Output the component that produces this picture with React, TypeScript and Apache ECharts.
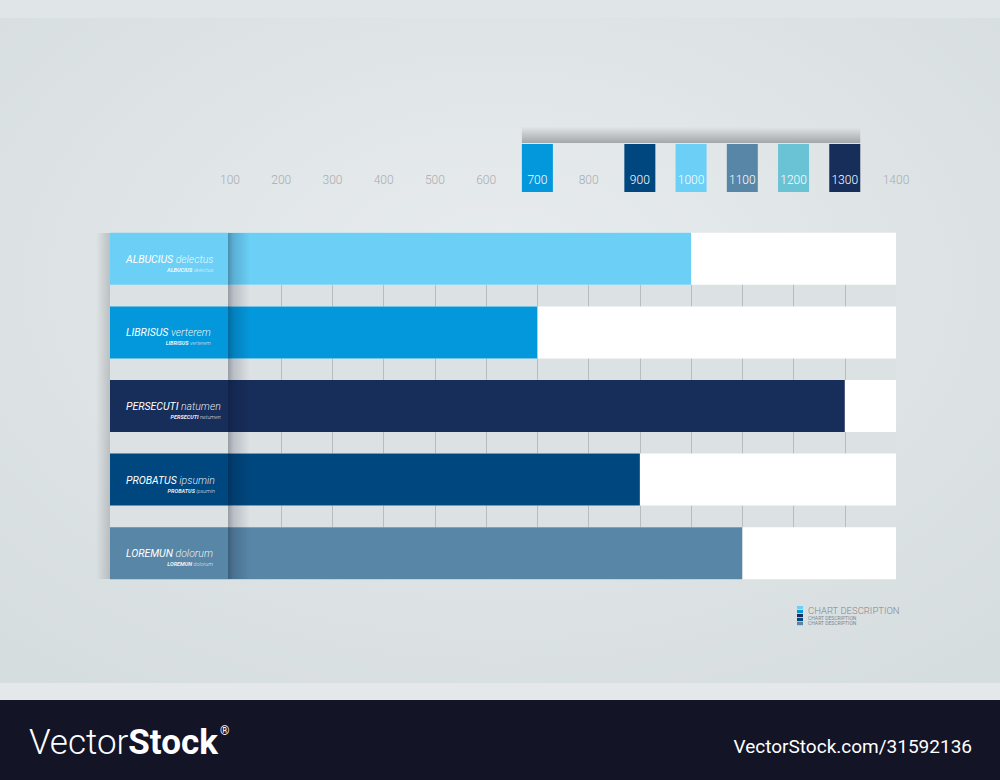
import React, { useEffect, useRef } from "react";
import * as echarts from "echarts";

// ---- data ----
const categories = ["ALBUCIUS", "LIBRISUS", "PERSECUTI", "PROBATUS", "LOREMUN"];
const subtitles = ["delectus", "verterem", "natumen", "ipsumin", "dolorum"];
const values = [1000, 700, 1300, 900, 1100];
const barColors = ["#6BCFF6", "#0397DB", "#172E5B", "#00477F", "#5886A6"];
const axisMin = 100;
const axisMax = 1400;
const axisStep = 100;
const chipValues = [700, 900, 1000, 1100, 1200, 1300];
const chipColors = ["#0397DB", "#00477F", "#6BCFF6", "#5886A6", "#6AC3D5", "#172E5B"];
const legendColors = ["#6BCFF6", "#0397DB", "#172E5B", "#00477F", "#5886A6"];
const legendTitle = "CHART DESCRIPTION";
const legendLines = ["CHART DESCRIPTION", "CHART DESCRIPTION"];
const brandLight = "Vector";
const brandBold = "Stock";
const brandUrl = "VectorStock.com/31592136";

const axisFont = "Roboto, 'Open Sans', sans-serif";
const labelFont = "Roboto, 'Open Sans', sans-serif";

export default function App() {
  const ref = useRef<HTMLDivElement>(null);

  useEffect(() => {
    document.body.style.margin = "0";
    const chart = echarts.init(ref.current!, null, { renderer: "svg" });

    const base = {
      width: 31,
      height: 16,
      lineHeight: 16,
      padding: [28, 0, 4, 0],
      align: "center",
      fontSize: 12,
      fontFamily: axisFont,
      fontWeight: 300,
    };
    const axisRich: any = { n: { ...base, color: "#A9ADB1" } };
    chipValues.forEach((v, i) => {
      axisRich["c" + v] = { ...base, color: "#FFFFFF", backgroundColor: chipColors[i] };
    });

    const gridTop = 222;
    const gridHeight = 368;

    chart.setOption({
      animation: false,
      backgroundColor: "#E1E6E8",
      grid: [
        { left: 110, width: 120, top: gridTop, height: gridHeight, containLabel: false },
        { left: 230, right: 104, top: gridTop, height: gridHeight, containLabel: false },
        { left: 230, right: 104, top: 233, height: 346, containLabel: false },
      ],
      xAxis: [
        { gridIndex: 0, type: "value", min: 0, max: 1, show: false },
        {
          gridIndex: 1,
          type: "value",
          min: axisMin,
          max: axisMax,
          interval: axisStep,
          position: "top",
          offset: gridTop - 176,
          axisLine: { show: false },
          axisTick: { show: false },
          splitLine: { show: false },
          axisLabel: {
            show: true,
            margin: 0,
            showMinLabel: true,
            showMaxLabel: true,
            formatter: (v: number) =>
              chipValues.includes(v) ? `{c${v}|${v}}` : `{n|${v}}`,
            rich: axisRich,
          },
        },
        {
          gridIndex: 2,
          type: "value",
          min: axisMin,
          max: axisMax,
          interval: axisStep,
          axisLine: { show: false },
          axisTick: { show: false },
          axisLabel: { show: false },
          splitLine: {
            show: true,
            showMinLine: false,
            showMaxLine: false,
            lineStyle: { color: "#B8BDC1", width: 1 },
          },
        },
      ],
      yAxis: [
        { gridIndex: 0, type: "category", data: categories, inverse: true, show: false },
        { gridIndex: 1, type: "category", data: categories, inverse: true, show: false },
        { gridIndex: 2, type: "value", show: false },
      ],
      series: [
        {
          type: "bar",
          xAxisIndex: 0,
          yAxisIndex: 0,
          barWidth: 52,
          silent: true,
          data: categories.map((c, i) => ({ value: 1, itemStyle: { color: barColors[i] } })),
          label: {
            show: true,
            position: "insideLeft",
            distance: 16,
            offset: [0, 5],
            formatter: (p: any) =>
              `{b|${categories[p.dataIndex]}}{l| ${subtitles[p.dataIndex]}}\n{bs|${categories[p.dataIndex]}}{ls| ${subtitles[p.dataIndex]}}`,
            rich: {
              b: { fontFamily: labelFont, fontSize: 10.5, fontStyle: "italic", fontWeight: 400, color: "#FFFFFF", lineHeight: 12 },
              l: { fontFamily: labelFont, fontSize: 10.5, fontStyle: "italic", fontWeight: 300, color: "rgba(255,255,255,0.92)", lineHeight: 12 },
              bs: { fontFamily: labelFont, fontSize: 5.5, fontStyle: "italic", fontWeight: 700, color: "rgba(255,255,255,0.92)", lineHeight: 9, align: "right" },
              ls: { fontFamily: labelFont, fontSize: 5.5, fontStyle: "italic", fontWeight: 300, color: "rgba(255,255,255,0.85)", lineHeight: 9, align: "right" },
            },
          },
        },
        {
          type: "bar",
          xAxisIndex: 1,
          yAxisIndex: 1,
          barWidth: 52,
          silent: true,
          showBackground: true,
          backgroundStyle: { color: "#FFFFFF" },
          data: values.map((v, i) => ({ value: v, itemStyle: { color: barColors[i] } })),
        },
        { type: "scatter", xAxisIndex: 2, yAxisIndex: 2, data: [], silent: true },
      ],
    });

    const px = (v: number) => chart.convertToPixel({ xAxisIndex: 1 }, v) as number;
    const stripLeft = px(chipValues[0]) - 15.5;
    const stripRight = px(chipValues[chipValues.length - 1]) + 15.5;
    const plotLeft = px(axisMin);
    const plotRight = px(axisMax);

    const elements: any[] = [
      { type: "rect", z: -20, silent: true, shape: { x: 0, y: 0, width: 1000, height: 18 }, style: { fill: "#E0E5E7" } },
      {
        type: "rect",
        z: -20,
        silent: true,
        shape: { x: 0, y: 18, width: 1000, height: 665 },
        style: {
          fill: new echarts.graphic.RadialGradient(0.5, 0.4, 0.75, [
            { offset: 0, color: "#E8ECEE" },
            { offset: 1, color: "#D6DDDF" },
          ]),
        },
      },
      { type: "rect", z: -20, silent: true, shape: { x: 0, y: 683, width: 1000, height: 17 }, style: { fill: "#E4E8EA" } },
      { type: "rect", z: -20, silent: true, shape: { x: 0, y: 700, width: 1000, height: 80 }, style: { fill: "#131426" } },
      // gap band behind the bars
      { type: "rect", z: -5, silent: true, shape: { x: 110, y: 233, width: plotRight - 110, height: 346 }, style: { fill: "#DCE1E4" } },
      // left shadow
      {
        type: "rect",
        z: 10,
        silent: true,
        shape: { x: 96, y: 233, width: 14, height: 346 },
        style: {
          fill: new echarts.graphic.LinearGradient(0, 0, 1, 0, [
            { offset: 0, color: "rgba(0,0,0,0)" },
            { offset: 1, color: "rgba(0,0,0,0.16)" },
          ]),
        },
      },
      // fold shadow
      {
        type: "rect",
        z: 10,
        silent: true,
        shape: { x: plotLeft - 2, y: 233, width: 22, height: 346 },
        style: {
          fill: new echarts.graphic.LinearGradient(0, 0, 1, 0, [
            { offset: 0, color: "rgba(0,10,30,0.32)" },
            { offset: 0.25, color: "rgba(0,10,30,0.16)" },
            { offset: 1, color: "rgba(0,10,30,0)" },
          ]),
        },
      },
      // strip above chips
      {
        type: "rect",
        z: 1,
        silent: true,
        shape: { x: stripLeft, y: 127, width: stripRight - stripLeft, height: 16 },
        style: {
          fill: new echarts.graphic.LinearGradient(0, 0, 0, 1, [
            { offset: 0, color: "#E2E5E7" },
            { offset: 1, color: "#A4A7AA" },
          ]),
        },
      },
      // legend
      ...legendColors.map((c, i) => ({
        type: "rect",
        z: 5,
        silent: true,
        shape: { x: 797, y: 606 + i * 4, width: 6, height: 3.2 },
        style: { fill: c },
      })),
      {
        type: "text",
        z: 5,
        silent: true,
        x: 808,
        y: 610,
        style: { text: legendTitle, fill: "#7F878E", font: `300 9.5px ${labelFont}`, verticalAlign: "middle" },
      },
      ...legendLines.map((t, i) => ({
        type: "text",
        z: 5,
        silent: true,
        x: 808,
        y: 618 + i * 5,
        style: { text: t, fill: "#7F878E", font: `5px ${labelFont}`, verticalAlign: "middle" },
      })),
      // banner
      {
        type: "text",
        z: 5,
        silent: true,
        x: 29,
        y: 742,
        style: {
          text: `{a|${brandLight}}{b|${brandBold}}{r|®}`,
          verticalAlign: "middle",
          rich: {
            a: { fontFamily: labelFont, fontSize: 35, fontWeight: 300, fill: "#FFFFFF", color: "#FFFFFF" },
            b: { fontFamily: labelFont, fontSize: 35, fontWeight: 700, fill: "#FFFFFF", color: "#FFFFFF" },
            r: { fontFamily: labelFont, fontSize: 12, fill: "#FFFFFF", color: "#FFFFFF", verticalAlign: "top", padding: [0, 0, 16, 2] },
          },
        },
      },
      {
        type: "text",
        z: 5,
        silent: true,
        x: 972,
        y: 746,
        style: {
          text: brandUrl,
          fill: "#FFFFFF",
          font: `19px ${axisFont}`,
          align: "right",
          verticalAlign: "middle",
        },
      },
    ];

    chart.setOption({ graphic: { elements } });
    return () => chart.dispose();
  }, []);

  return (
    <div
      ref={ref}
      style={{ position: "absolute", left: 0, top: 0, width: 1000, height: 780 }}
    />
  );
}
